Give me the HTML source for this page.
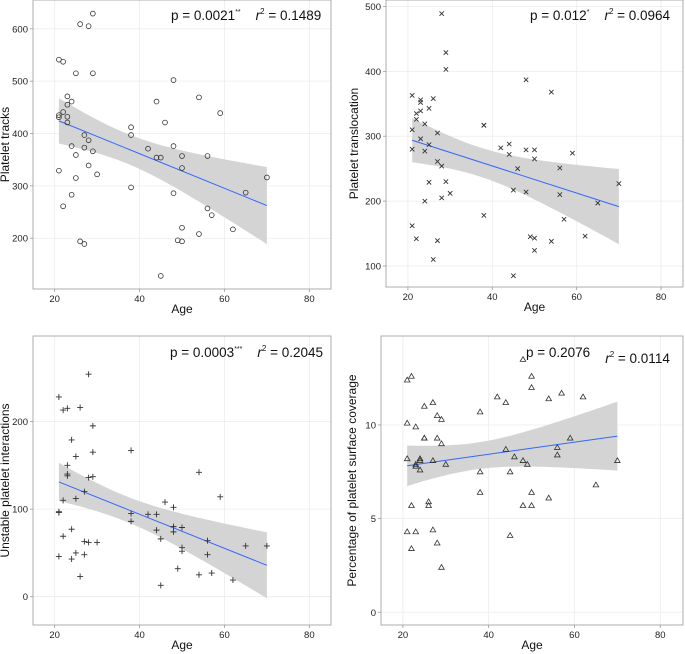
<!DOCTYPE html>
<html><head><meta charset="utf-8"><style>
html,body{margin:0;padding:0;background:#fff;}
svg{display:block;font-family:"Liberation Sans",sans-serif;}
</style></head><body>
<svg id="chart" width="685" height="654" viewBox="0 0 685 654" xmlns="http://www.w3.org/2000/svg"></svg>
<script>
// Panel 1: Platelet tracks
const ages1 = [21,22,26,28,29,25,29,23,24,23,22,21,21,23,23,27,28,24,27,29,25,28,30,21,25,24,22,26,27,38,38,38,42,44,44,45,46,48,48,48,50,50,50,49,50,45,54,56,54,56,57,59,62,65,70];
const vals1 = [541,537,609,605,629,515,515,471,461,455,441,435,431,432,421,397,387,376,373,366,359,339,322,329,315,283,261,194,189,412,397,297,371,461,354,354,421,502,376,286,357,334,220,196,194,128,469,357,208,257,244,439,217,287,316];
const yTicks1 = [200,300,400,500,600];
// Panel 2: Platelet translocation
const ages2 = [28,29,29,48,54,21,26,23,23,25,23,22,22,24,38,38,21,27,23,44,42,21,25,48,50,24,44,59,50,27,28,46,56,29,25,70,48,45,30,56,28,24,65,38,57,21,22,27,49,50,62,54,50,26,45];
const vals2 = [489,429,403,387,368,363,358,356,352,343,339,335,326,319,317,317,310,305,296,288,282,280,287,279,279,277,272,274,265,261,254,250,251,230,229,227,214,217,212,210,205,200,197,178,172,162,142,139,145,143,146,138,124,110,85];
const yTicks2 = [100,200,300,400,500];
// Panel 3: Unstable platelet interactions
const ages3 = [28,21,22,23,26,29,24,25,29,38,23,23,23,28,29,27,25,22,21,21,54,59,46,48,38,38,42,44,24,44,48,48,50,45,22,27,28,30,56,50,50,65,70,25,27,21,24,56,49,54,57,26,62,45];
const vals3 = [254,228,213,215,216,195,179,160,165,167,150,140,138,136,137,120,112,110,97,96,142,114,108,102,95,86,94,94,77,76,80,74,79,66,69,63,62,62,64,56,52,58,58,50,48,46,43,48,32,25,27,23,19,13];
const yTicks3 = [0,100,200];
// Panel 4: Percentage of platelet surface coverage
const ages4 = [48,50,22,21,50,57,42,62,54,44,27,25,38,28,29,21,23,25,25,28,59,29,56,44,56,46,21,24,27,24,48,70,30,23,49,23,24,38,45,65,38,50,54,26,26,22,48,50,21,23,27,45,28,22,29];
const vals4 = [13.5,12.6,12.6,12.4,12.0,11.7,11.5,11.5,11.4,11.2,11.2,11.0,10.7,10.5,10.3,10.1,9.9,9.3,9.3,9.3,9.3,9.0,8.8,8.7,8.4,8.3,8.2,8.2,8.1,8.1,8.1,8.1,7.9,7.9,7.9,7.8,7.6,7.5,7.5,6.8,6.4,6.4,6.1,5.9,5.7,5.7,5.7,5.7,4.3,4.3,4.4,4.1,3.7,3.4,2.4];
const yTicks4 = [0,5,10];
const xTicks = [20,40,60,80];

const NS = "http://www.w3.org/2000/svg";
const svg = document.getElementById('chart');
function mk(tag, attrs, parent){const e=document.createElementNS(NS,tag);for(const k in attrs)e.setAttribute(k,attrs[k]);(parent||svg).appendChild(e);return e;}

function panel(cfg){
  const g = mk('g',{});
  
  
  const {L,R,T,B,xd,yd}=cfg;
  const sx=v=>L+(v-xd[0])/(xd[1]-xd[0])*(R-L);
  const sy=v=>B-(v-yd[0])/(yd[1]-yd[0])*(B-T);
  // grid
  xTicks.forEach(t=>{
    const l=mk('line',{x1:sx(t),x2:sx(t),y1:T,y2:B,stroke:'#ececec','stroke-width':0.8},g);
    
    
  });
  cfg.yTicks.forEach(t=>{
    const l=mk('line',{x1:L,x2:R,y1:sy(t),y2:sy(t),stroke:'#ececec','stroke-width':0.8},g);
    
    
  });
  // regression + CI
  const xs=cfg.ages, ys=cfg.vals, n=xs.length;
  const mx=xs.reduce((a,b)=>a+b,0)/n, my=ys.reduce((a,b)=>a+b,0)/n;
  let sxx=0,sxy=0;for(let i=0;i<n;i++){sxx+=(xs[i]-mx)**2;sxy+=(xs[i]-mx)*(ys[i]-my);}
  const b1=sxy/sxx,b0=my-b1*mx;
  let sse=0;for(let i=0;i<n;i++)sse+=(ys[i]-b0-b1*xs[i])**2;
  const s=Math.sqrt(sse/(n-2)), tq=2.006;
  const x0=Math.min(...xs), x1=Math.max(...xs);
  const up=[],lo=[];
  for(let k=0;k<=40;k++){const x=x0+(x1-x0)*k/40;const f=b0+b1*x;const se=s*Math.sqrt(1/n+(x-mx)**2/sxx);
    up.push(sx(x).toFixed(1)+','+sy(f+tq*se).toFixed(1));lo.unshift(sx(x).toFixed(1)+','+sy(f-tq*se).toFixed(1));}
  const band=mk('polygon',{points:up.concat(lo).join(' '),fill:'#d4d4d4'},g);
  
  
  const rl=mk('line',{x1:sx(x0),y1:sy(b0+b1*x0),x2:sx(x1),y2:sy(b0+b1*x1),stroke:'#3366ff','stroke-width':1},g);
  
  
  // points
  for(let i=0;i<n;i++){
    const px=sx(xs[i]),py=sy(ys[i]);let m;
    if(cfg.shape==='circle') m=mk('circle',{cx:px,cy:py,r:2.4,fill:'none',stroke:'#333','stroke-width':0.8},g);
    else if(cfg.shape==='x') m=mk('path',{d:`M${px-2.2},${py-2.2}L${px+2.2},${py+2.2}M${px-2.2},${py+2.2}L${px+2.2},${py-2.2}`,stroke:'#333','stroke-width':0.9},g);
    else if(cfg.shape==='plus') m=mk('path',{d:`M${px-3},${py}L${px+3},${py}M${px},${py-3}L${px},${py+3}`,stroke:'#333','stroke-width':0.9},g);
    else m=mk('path',{d:`M${px},${py-2.8}L${px+2.8},${py+2}L${px-2.8},${py+2}Z`,fill:'none',stroke:'#333','stroke-width':0.8},g);
    
    
  }
  // border
  const bd=mk('rect',{x:L,y:T,width:R-L,height:B-T,fill:'none',stroke:'#999','stroke-width':0.8},g);
  
  
  // ticks
  xTicks.forEach(t=>{
    mk('line',{x1:sx(t),x2:sx(t),y1:B,y2:B+3,stroke:'#999','stroke-width':0.8},g);
    const tx=mk('text',{x:sx(t),y:B+13,'font-size':9.5,'text-anchor':'middle',fill:'#222'},g);
    tx.textContent=t;
    
    
  });
  cfg.yTicks.forEach(t=>{
    mk('line',{x1:L-3,x2:L,y1:sy(t),y2:sy(t),stroke:'#999','stroke-width':0.8},g);
    const tx=mk('text',{x:L-5,y:sy(t)+3.5,'font-size':9.5,'text-anchor':'end',fill:'#222'},g);
    tx.textContent=t;
    
    
  });
  const xt=mk('text',{x:(L+R)/2,y:B+24,'font-size':12,'text-anchor':'middle',fill:'#111'},g);
  xt.textContent='Age';
  
  
  const yx=cfg.ytx, yy=(T+B)/2;
  const yt=mk('text',{x:yx,y:yy,'font-size':12,'text-anchor':'middle',fill:'#111',transform:`rotate(-90 ${yx} ${yy})`},g);
  yt.textContent=cfg.ytitle;
  
  
  const an=mk('text',{x:cfg.ax,y:cfg.ay,'font-size':13.5,fill:'#111'},g);
  an.innerHTML=`p = ${cfg.p}<tspan font-size="7" dy="-6">${cfg.stars}</tspan><tspan dy="6" xml:space="preserve">    </tspan><tspan font-style="italic">r</tspan><tspan font-size="8" dy="-6">2</tspan><tspan dy="6"> = ${cfg.r2}</tspan>`;
  
  
}

panel({name:'panel-platelet-tracks',L:33,R:331,T:0,B:289,xd:[14.9,85.1],yd:[103,655],yTicks:yTicks1,ages:ages1,vals:vals1,shape:'circle',ytitle:'Platelet tracks',ytx:9,ax:171,ay:20,p:'0.0021',stars:'**',r2:'0.1489'});
panel({name:'panel-platelet-translocation',L:386,R:683,T:0,B:287,xd:[14.8,85.2],yd:[67.6,510],yTicks:yTicks2,ages:ages2,vals:vals2,shape:'x',ytitle:'Platelet translocation',ytx:358,ax:530,ay:20,p:'0.012',stars:'*',r2:'0.0964'});
panel({name:'panel-unstable-interactions',L:33,R:331,T:336,B:625,xd:[14.9,85.1],yd:[-32.3,297.6],yTicks:yTicks3,ages:ages3,vals:vals3,shape:'plus',ytitle:'Unstable platelet interactions',ytx:9,ax:170,ay:357,p:'0.0003',stars:'***',r2:'0.2045'});
panel({name:'panel-surface-coverage',L:381,R:683,T:336,B:625,xd:[14.9,85.3],yd:[-0.68,14.75],yTicks:yTicks4,ages:ages4,vals:vals4,shape:'tri',ytitle:'Percentage of platelet surface coverage',ytx:356,ax:526,ay:357,p:'0.2076',stars:'',r2:'0.0114'});
</script>
</body></html>
